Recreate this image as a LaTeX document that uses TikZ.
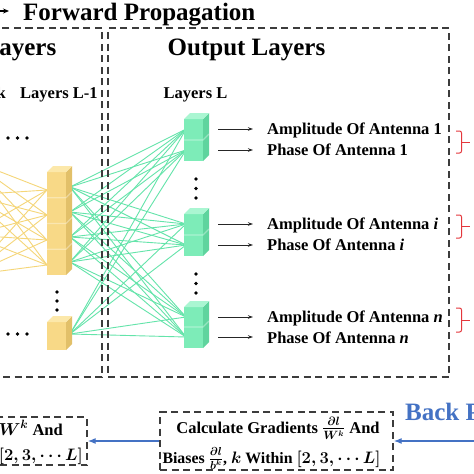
\documentclass[tikz,border=0pt]{standalone}
\usepackage{fontspec}
\setmainfont{Liberation Serif}
\usetikzlibrary{arrows.meta}
\definecolor{glin}{RGB}{100,228,170}
\definecolor{ylin}{RGB}{245,214,120}
\definecolor{gfront}{RGB}{125,236,184}
\definecolor{gside}{RGB}{95,212,158}
\definecolor{gtop}{RGB}{170,246,210}
\definecolor{yfront}{RGB}{248,217,135}
\definecolor{yside}{RGB}{226,192,105}
\definecolor{ytop}{RGB}{252,232,170}
\definecolor{dashc}{RGB}{60,60,60}
\definecolor{bpblue}{RGB}{68,114,196}
\definecolor{brred}{RGB}{228,55,60}
\newcommand\mycube[6]{%
  \fill[#4] (#1,#2) rectangle ({#1+19},#3);
  \fill[#5] ({#1+19},#2) -- ({#1+25},{#2-6}) -- ({#1+25},{#3-6}) -- ({#1+19},#3) -- cycle;
  \fill[#6] (#1,#2) -- ({#1+6},{#2-6}) -- ({#1+25},{#2-6}) -- ({#1+19},#2) -- cycle;
}
\begin{document}
\begin{tikzpicture}[x=1pt,y=-1pt,
  big/.style={font=\bfseries\fontsize{25}{30}\selectfont, inner sep=0pt},
  mid/.style={font=\bfseries\fontsize{16.5}{20}\selectfont, inner sep=0pt},
  bt/.style={font=\bfseries\boldmath\fontsize{16.5}{20}\selectfont, inner sep=0pt},
  dashbox/.style={draw=dashc, line width=1.4pt, dash pattern=on 7pt off 4.5pt, inner sep=0pt},
  ylinks/.style={ylin, line width=0.9pt},
  glinks/.style={glin, line width=0.9pt},
  outarr/.style={line width=0.9pt, -{Stealth[length=5pt,width=3.5pt]}, black!85},
  bluearr/.style={bpblue, line width=1.3pt, -{Latex[length=8pt,width=6pt]}},
  brace/.style={brred, line width=1pt, rounded corners=2pt},
  band/.style={white, opacity=0.35, line width=1.2pt}]
\useasboundingbox (0,0) rectangle (474,474);
\fill[white] (0,0) rectangle (474,474);

% ---- network coordinates
\foreach \i/\yy in {1/160,2/195,3/235,4/275} \coordinate (src\i) at (-30,\yy);
\foreach \i/\yy in {1/190,2/215,3/240,4/265} \coordinate (yin\i) at (47,\yy);
\foreach \i/\yy in {1/187,2/212,3/237,4/262,5/334} \coordinate (yout\i) at (70,\yy);
\foreach \i/\yy in {1/129,2/150,3/224,4/245,5/317,6/337} {
  \coordinate (gin\i) at (186,\yy);
  \coordinate (as\i) at (218,\yy);
  \coordinate (ae\i) at (253,\yy);
}

% ---- links
\foreach \a in {1,...,4} \foreach \b in {1,...,4} \draw[ylinks] (src\a) -- (yin\b);
\foreach \a in {1,...,5} \foreach \b in {1,...,6} \draw[glinks] (yout\a) -- (gin\b);

% ---- yellow cubes
\mycube{47}{172}{275}{yfront}{yside}{ytop}
\foreach \s in {197.75,223.5,249.25} \draw[band] (47,\s) -- (66,\s) -- (72,{\s-6});
\mycube{47}{322}{350}{yfront}{yside}{ytop}

% ---- green cubes
\foreach \t/\m/\b in {119/140/161, 214/235/256, 307/327/348} {
  \mycube{184}{\t}{\b}{gfront}{gside}{gtop}
  \draw[band] (184,\m) -- (203,\m) -- (209,{\m-6});
}

% ---- dots
\foreach \xx in {8,17.5,27} {\fill (\xx,138) circle (1.8); \fill (\xx,334) circle (1.8);}
\foreach \yy in {292,301,310} \fill (57,\yy) circle (1.8);
\foreach \yy in {179,188.5,198,274,283.5,293} \fill (196,\yy) circle (1.8);

% ---- dashed frames
\node[dashbox, minimum width=122pt, minimum height=349pt] (hid) at (41,202.5) {};
\node[dashbox, minimum width=341pt, minimum height=349pt] (outb) at (278.5,202.5) {};

% ---- header
\coordinate (fpsrc) at (-12,11);
\node[big, anchor=base west] (fp) at (23,20) {Forward Propagation};
\draw[line width=1.3pt, -{Stealth[length=6pt,width=5pt]}] (fpsrc) -- ([xshift=-14pt]fp.west |- fpsrc);
\node[big, anchor=base east] (hl) at (56.5,55) {Layers};
\node[big, anchor=base] (ol) at (246.5,55) {Output Layers};
\node[mid, anchor=base east] (lk) at (6,98) {Layers k};
\node[mid, anchor=base west] (ll1) at (20,98) {Layers L-1};
\node[mid, anchor=base] (ll) at (195.5,98) {Layers L};

% ---- outputs
\node[mid, anchor=base west] (amp1) at (267,134.5) {Amplitude Of Antenna 1};
\node[mid, anchor=base west] (ph1) at (267,155.5) {Phase Of Antenna 1};
\node[mid, anchor=base west] (ampi) at (267,229.5) {Amplitude Of Antenna \textit{i}};
\node[mid, anchor=base west] (phi) at (267,250.5) {Phase Of Antenna \textit{i}};
\node[mid, anchor=base west] (ampn) at (267,322.5) {Amplitude Of Antenna \textit{n}};
\node[mid, anchor=base west] (phn) at (267,343) {Phase Of Antenna \textit{n}};
\foreach \i in {1,...,6} \draw[outarr] (as\i) -- (ae\i);

% ---- red braces
\foreach \t/\b in {131/153, 215/238, 308/332} {
  \draw[brace] (456,\t) -- (461.5,\t) -- (461.5,\b) -- (456,\b);
  \draw[brred, line width=1pt] (461.5,{(\t+\b)/2}) -- (470,{(\t+\b)/2});
}

% ---- back propagation
\node[dashbox, line width=1.3pt, minimum width=233pt, minimum height=58pt] (calc) at (276.5,441) {};
\node[bt, anchor=base] (c1) at (278,433) {Calculate Gradients $\frac{\partial l}{W^k}$ And};
\node[bt, anchor=base] (c2) at (271.5,463) {\scalebox{0.96}{Biases $\frac{\partial l}{b^k}$, $k$ Within $[2,3,\cdots L]$}};
\node[dashbox, line width=1.3pt, minimum width=110pt, minimum height=48pt] (upd) at (32,441) {};
\node[bt, anchor=base east] (u1) at (63,435) {Update Weights $W^k$ And};
\node[bt, anchor=base east] (u2) at (83,460) {\scalebox{0.96}{Biases $b^k$ Within $[2,3,\cdots L]$}};
\node[big, text=bpblue, anchor=base west] (bp) at (405,420) {Back Propagation};
\coordinate (bpsrc) at (490,441);
\draw[bluearr] (bpsrc) -- (calc.east);
\draw[bluearr] (calc.west) -- (upd.east);
\end{tikzpicture}
\end{document}
